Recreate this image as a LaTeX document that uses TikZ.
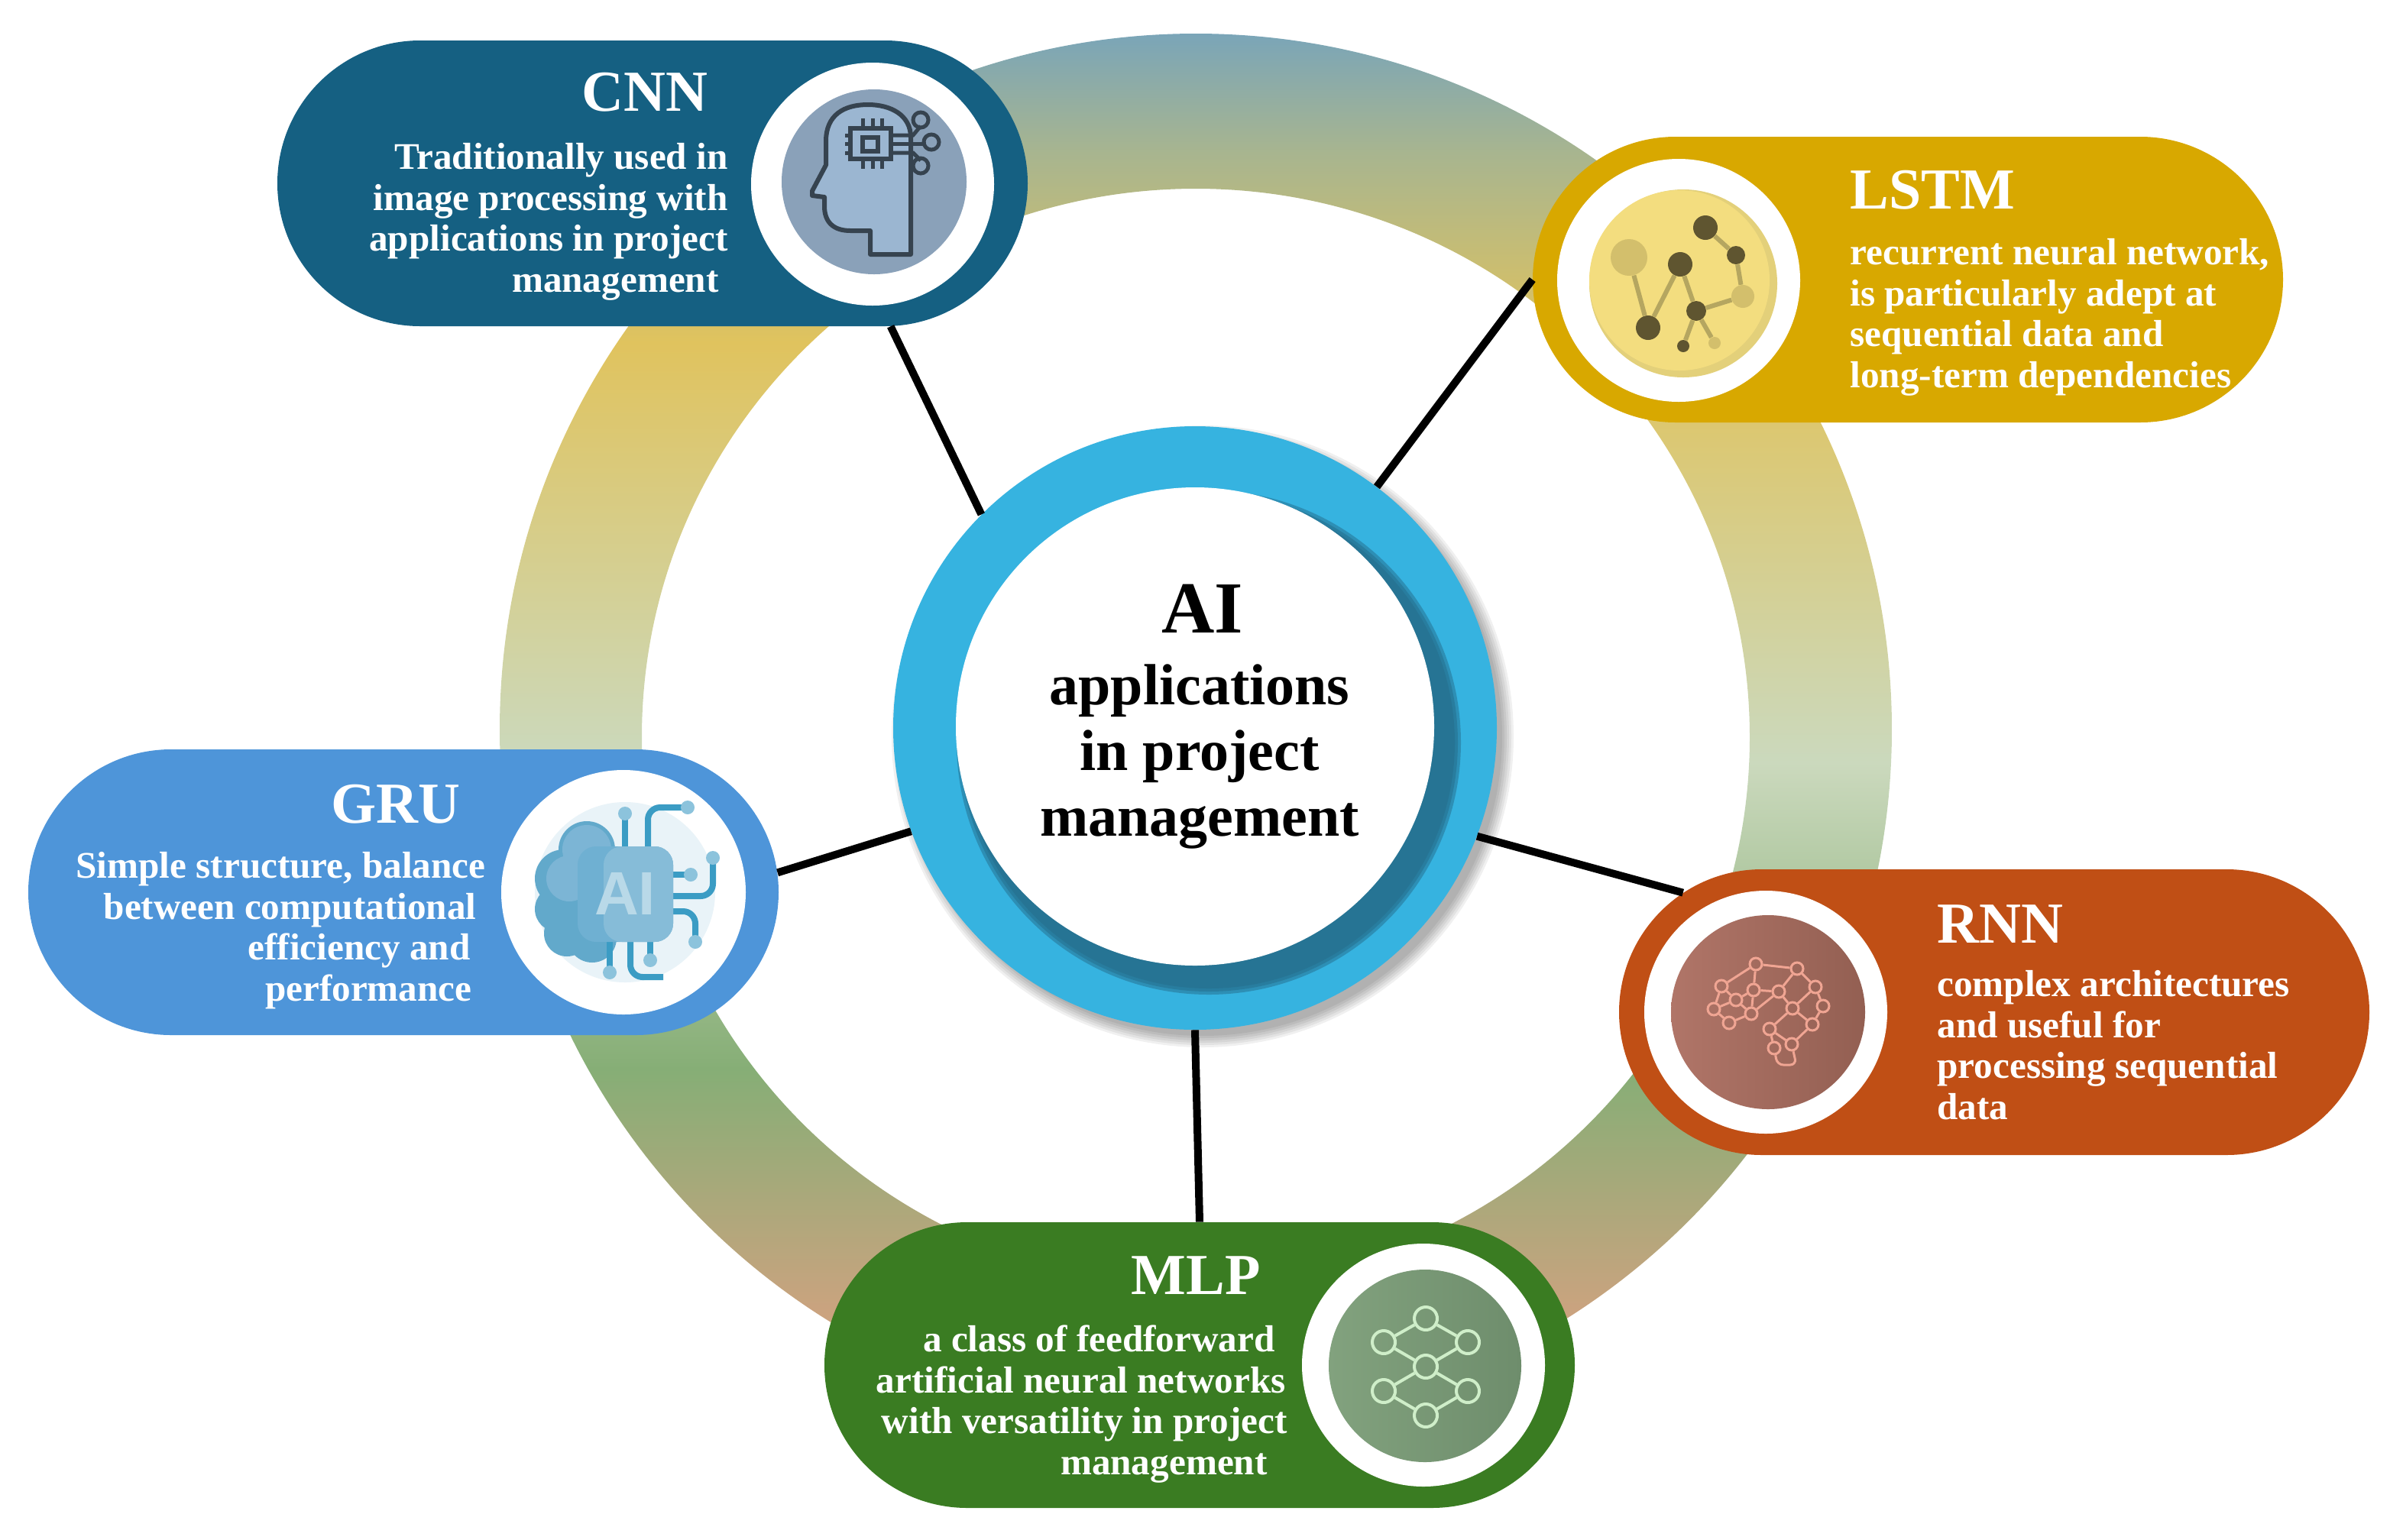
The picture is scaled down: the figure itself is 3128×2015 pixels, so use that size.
\documentclass[tikz,border=0pt]{standalone}
\usepackage{fontspec}
\setmainfont{Liberation Serif}
\newfontfamily\iconfont{Liberation Sans}
\usetikzlibrary{shapes}

\definecolor{cnnblue}{HTML}{156082}
\definecolor{lstmgold}{HTML}{D8A800}
\definecolor{grublue}{HTML}{4E95D9}
\definecolor{rnnrust}{HTML}{C04F15}
\definecolor{mlpgreen}{HTML}{3A7C22}
\definecolor{hubcyan}{HTML}{36B3E0}
\definecolor{hubdark}{HTML}{256D8B}
\definecolor{ringa}{HTML}{7AA5B8}
\definecolor{ringb}{HTML}{A8B58F}
\definecolor{ringc}{HTML}{E0C35E}
\definecolor{ringd}{HTML}{CBD9BD}
\definecolor{ringe}{HTML}{86AE76}
\definecolor{ringf}{HTML}{CBA37F}
\definecolor{cnndisc}{HTML}{8AA1B9}
\definecolor{headline}{HTML}{36434F}
\definecolor{headfill}{HTML}{9BB6D1}
\definecolor{lstmrim}{HTML}{E3D07A}
\definecolor{lstmdisc}{HTML}{F3DD7F}
\definecolor{lstmdark}{HTML}{5F5530}
\definecolor{lstmlight}{HTML}{D3BF6C}
\definecolor{lstmwire}{HTML}{B5A660}
\definecolor{grudisc}{HTML}{E9F3F8}
\definecolor{grucloud}{HTML}{62A9CB}
\definecolor{grucloudlight}{HTML}{7CB5D5}
\definecolor{gruchip}{HTML}{6FB0D2}
\definecolor{gruchiplight}{HTML}{86BCD8}
\definecolor{grulabel}{HTML}{B9D9E8}
\definecolor{gruwire}{HTML}{3B9CC4}
\definecolor{gruknob}{HTML}{8CC3DC}
\definecolor{rnnleft}{HTML}{B07568}
\definecolor{rnnright}{HTML}{935F52}
\definecolor{brainpink}{HTML}{F0A593}
\definecolor{mlpleft}{HTML}{82A27E}
\definecolor{mlpright}{HTML}{6E8D6C}
\definecolor{mlpmint}{HTML}{CFEEC9}

\pgfdeclareverticalshading{ringshade}{100bp}{color(0bp)=(ringf); color(29bp)=(ringf); color(37.8bp)=(ringe); color(48.8bp)=(ringd); color(63.9bp)=(ringc); color(70.7bp)=(ringb); color(75bp)=(ringa); color(100bp)=(ringa)}

\begin{document}
\begin{tikzpicture}[x=0.5pt, y=-0.5pt]

% Define styles
\tikzstyle{pill} = [rounded rectangle, minimum width=491pt, minimum height=187pt, inner sep=0pt]
\tikzstyle{headtext} = [white, inner sep=0pt, font=\fontsize{38}{44}\selectfont\bfseries]
\tikzstyle{bodyleft} = [white, inner sep=0pt, anchor=base west, align=left, font=\fontsize{24.6}{26.7}\selectfont\bfseries]
\tikzstyle{bodyright} = [white, inner sep=0pt, anchor=base east, align=right, font=\fontsize{24.6}{26.7}\selectfont\bfseries]
\tikzstyle{link} = [line width=5pt, black]
\tikzstyle{dot} = [circle, inner sep=0pt]
\tikzstyle{wire} = [line width=4pt, gruwire, rounded corners=8pt]

\useasboundingbox (0,0) rectangle (3128,2015);

% Gradient ring
\shade[shading=ringshade, even odd rule] (1565,955) circle (911) (1565,965) ellipse (725 and 718);

% Pills
\node [pill, fill=cnnblue] (cnn) at (854,240) {};
\node [pill, fill=lstmgold] (lstm) at (2497,366) {};
\node [pill, fill=grublue] (gru) at (528,1168) {};
\node [pill, fill=rnnrust] (rnn) at (2610,1325) {};
\node [pill, fill=mlpgreen] (mlp) at (1570,1787) {};

% Hub
\foreach \r in {392,395,398,401,404,407}
  \fill [black, opacity=.06] (1574,964) circle (\r);
\node [circle, fill=hubcyan, minimum size=395pt, inner sep=0pt] (hub) at (1564,953) {};
\foreach \r in {330,326,322}
  \fill [hubdark, opacity=.5] (1582,972) circle (\r);
\fill [white] (1564,951) circle (313);
\node [inner sep=0pt, anchor=base, align=center, font=\fontsize{38}{43}\selectfont\bfseries] (hubtext) at (1570,1094)
  {applications\\in project\\management};
\node [inner sep=0pt, anchor=base, font=\fontsize{48}{48}\selectfont\bfseries] (hubtitle) at (1574,828) {AI};

% Pill texts
\node [headtext, anchor=base east] (cnnhead) at (927,145) {CNN};
\node [bodyright] (cnnbody) at (953,382) {Traditionally used in\\image processing with\\applications in project\\management\kern6pt};
\node [headtext, anchor=base west] (lstmhead) at (2421,273) {LSTM};
\node [bodyleft] (lstmbody) at (2421,507) {recurrent neural network,\\is particularly adept at\\sequential data and\\long-term dependencies};
\node [headtext, anchor=base east] (gruhead) at (603,1077) {GRU};
\node [bodyright] (grubody) at (636,1310) {Simple structure, balance\\between computational\kern6pt\\efficiency and\kern10pt\\performance\kern9pt};
\node [headtext, anchor=base west] (rnnhead) at (2535,1234) {RNN};
\node [bodyleft] (rnnbody) at (2535,1465) {complex architectures\\and useful for\\processing sequential\\data};
\node [headtext, anchor=base east] (mlphead) at (1650,1694) {MLP};
\node [bodyright] (mlpbody) at (1685,1930) {a class of feedforward\kern8pt\\artificial neural networks\kern1pt\\with versatility in project\\management\kern13pt};

% CNN icon
\fill [white] (1142,241) circle (159);
\fill [cnndisc] (1144,238) circle (121);
\draw [headline, fill=headfill, line width=3pt, line join=round] (1192,333) -- (1139,333) -- (1139,302) -- (1113,302)
  .. controls (1090,302) and (1079,290) .. (1079,270) -- (1079,258) -- (1063,256) -- (1063,250) -- (1081,216) -- (1081,185)
  .. controls (1081,150) and (1105,137) .. (1136,137) .. controls (1165,137) and (1192,150) .. (1192,180) -- cycle;
\draw [headline, line width=3pt] (1113,168) rectangle (1166,208);
\draw [headline, line width=3pt] (1129,180) rectangle (1149,198);
\foreach \x in {1129,1142,1154} {
  \draw [headline, line width=2.5pt] (\x,155) -- (\x,168);
  \draw [headline, line width=2.5pt] (\x,208) -- (\x,221);
}
\foreach \y in {177,188,200}
  \draw [headline, line width=2.5pt] (1106,\y) -- (1113,\y);
\draw [headline, line width=2.5pt] (1166,177) -- (1195,177) -- (1205,165);
\draw [headline, line width=2.5pt] (1166,188) -- (1212,188);
\draw [headline, line width=2.5pt] (1166,200) -- (1195,200) -- (1205,210);
\foreach \x/\y/\n in {1205/157/a,1219/186/b,1205/217/c}
  \node [dot, draw=headline, line width=2.5pt, minimum size=10pt] (chip\n) at (\x,\y) {};

% LSTM icon
\fill [white] (2197,367) circle (159);
\fill [lstmrim] (2203,371) circle (123);
\fill [lstmdisc] (2198,367) circle (118);
\foreach \n/\x/\y/\r/\c in {a/2232/298/16/lstmdark, b/2272/334/12/lstmdark, c/2281/388/15/lstmlight, d/2220/407/13/lstmdark, e/2199/346/16/lstmdark, f/2132/337/24/lstmlight, g/2157/429/16/lstmdark, h/2203/453/8/lstmdark, i/2244/449/8/lstmlight}
  \node [dot, fill=\c, minimum size=\r pt] (lstm\n) at (\x,\y) {};
\foreach \u/\v in {a/b, b/c, c/d, d/e, e/g, g/f, d/h, d/i}
  \draw [lstmwire, line width=3pt] (lstm\u) -- (lstm\v);

% GRU icon
\fill [white] (816,1168) circle (160);
\fill [grudisc] (818,1168) circle (118);
\foreach \x/\y/\r in {768/1112/37, 738/1150/38, 730/1190/30, 742/1222/30, 775/1228/32}
  \fill [grucloud] (\x,\y) circle (\r);
\foreach \x/\y/\r in {768/1112/32, 745/1150/30}
  \fill [grucloudlight] (\x,\y) circle (\r);
\draw [wire] (818,1110) -- (818,1065);
\draw [wire] (848,1110) -- (848,1057) -- (900,1057);
\draw [wire] (875,1145) -- (904,1145);
\draw [wire] (875,1173) -- (933,1173) -- (933,1123);
\draw [wire] (875,1193) -- (910,1193) -- (910,1233);
\draw [wire] (798,1230) -- (798,1273);
\draw [wire] (851,1230) -- (851,1257);
\draw [wire] (825,1230) -- (825,1279) -- (868,1279);
\foreach \n/\x/\y in {a/818/1065, b/900/1057, c/904/1145, d/933/1123, e/910/1233, f/798/1273, g/851/1257}
  \node [dot, fill=gruknob, minimum size=9pt] (knob\n) at (\x,\y) {};
\fill [gruchip, rounded corners=12pt] (756,1108) rectangle (881,1233);
\fill [gruchiplight, rounded corners=12pt] (790,1108) rectangle (881,1233);
\node [inner sep=0pt, text=grulabel, font=\fontsize{40}{40}\selectfont\iconfont\bfseries] (chiplabel) at (818,1170) {AI};

% RNN icon
\fill [white] (2311,1325) circle (159);
\shade [left color=rnnleft, right color=rnnright] (2314,1325) circle (127);
\foreach \n/\x/\y in {1/2298/1262, 2/2352/1268, 3/2253/1291, 4/2295/1296, 5/2328/1298, 6/2376/1292, 7/2272/1309, 8/2243/1321, 9/2292/1327, 10/2346/1320, 11/2386/1317, 12/2263/1339, 13/2316/1347, 14/2372/1341, 15/2322/1372, 16/2345/1367}
  \node [dot, draw=brainpink, line width=1.5pt, minimum size=8pt] (brain\n) at (\x,\y) {};
\foreach \u/\v in {1/2, 1/3, 1/4, 2/5, 2/6, 3/7, 3/8, 4/5, 4/7, 4/9, 5/9, 5/10, 6/10, 6/11, 7/9, 7/8, 8/12, 12/9, 10/13, 10/14, 11/14, 13/15, 13/16, 14/16}
  \draw [brainpink, line width=1.5pt] (brain\u) -- (brain\v);
\draw [brainpink, line width=1.5pt, rounded corners=4pt] (brain15) -- (2326,1394) -- (2351,1394) -- (brain16);

% MLP icon
\fill [white] (1863,1787) circle (159);
\shade [left color=mlpleft, right color=mlpright] (1865,1788) circle (126);
\foreach \n/\x/\y in {1/1866/1726, 2/1811/1757, 3/1921/1757, 4/1866/1789, 5/1811/1821, 6/1921/1821, 7/1866/1853}
  \node [dot, draw=mlpmint, line width=2pt, minimum size=15pt] (layer\n) at (\x,\y) {};
\foreach \u/\v in {1/2, 1/3, 2/4, 3/4, 4/5, 4/6, 5/7, 6/7}
  \draw [mlpmint, line width=2pt] (layer\u) -- (layer\v);

% Arrows
\draw [link] (hub.135) -- (cnn.-31);
\draw [link] (hub.53) -- (lstm.west);
\draw [link] (hub.200) -- (gru.3);
\draw [link] (hub.-21) -- (rnn.159);
\draw [link] (hub.south) -- (mlp.north);

\end{tikzpicture}
\end{document}
